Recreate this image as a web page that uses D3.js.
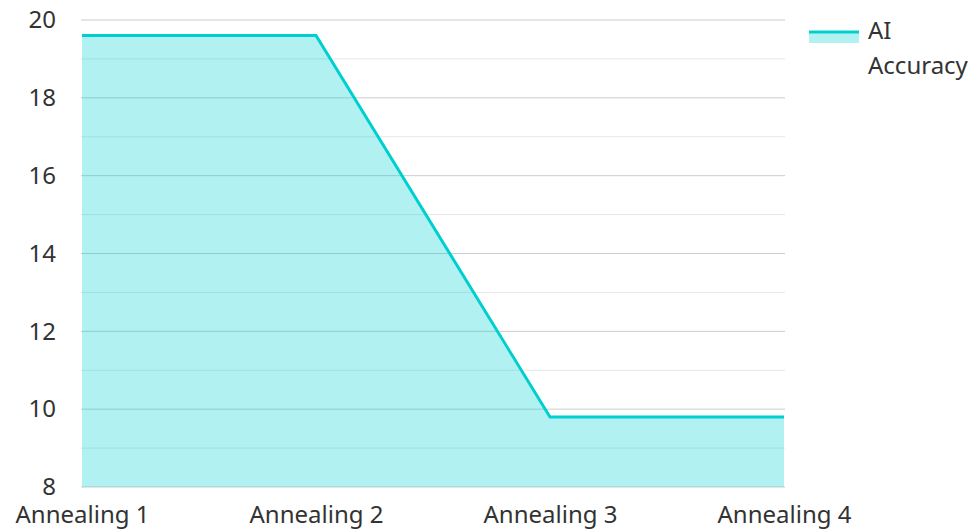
<!DOCTYPE html>
<html>
<head>
<meta charset="utf-8">
<script src="https://cdn.jsdelivr.net/npm/d3@7"></script>
<style>
  body { margin: 0; background: #fff; }
  text { font-family: "Noto Sans", sans-serif; fill: #333; }
</style>
</head>
<body>
<svg id="chart" width="974" height="529"></svg>
<script>

// DATA
// --------------------------------------------------------------------------

var categories = ['Annealing 1', 'Annealing 2', 'Annealing 3', 'Annealing 4'];
var accuracy = [19.6, 19.6, 9.8, 9.8];
var yTicks = [8, 10, 12, 14, 16, 18, 20];
var seriesName = ['AI', 'Accuracy'];


// CHART
// --------------------------------------------------------------------------

var svg = d3.select('#chart');
var color = '#00cfcf';
var fontSize = 24;

var x = d3.scalePoint().domain(categories).range([82, 784]);
var y = d3.scaleLinear().domain([8, 20]).range([487, 20]);

// Minor gridlines (odd values).
svg.append('g').selectAll('line')
  .data(d3.range(9, 20, 2))
  .join('line')
  .attr('x1', 81).attr('x2', 785)
  .attr('y1', d => y(d)).attr('y2', d => y(d))
  .attr('stroke', '#e6e6e6').attr('stroke-width', 1);

// Major gridlines.
svg.append('g').selectAll('line')
  .data(yTicks)
  .join('line')
  .attr('x1', 81).attr('x2', 785)
  .attr('y1', d => y(d)).attr('y2', d => y(d))
  .attr('stroke', '#cccccc').attr('stroke-width', 1);

// Area and line.
var pts = categories.map((c, i) => [x(c), y(accuracy[i])]);

svg.append('path')
  .datum(pts)
  .attr('d', d3.area().x(d => d[0]).y0(y(8)).y1(d => d[1]))
  .attr('fill', color).attr('fill-opacity', 0.3);

svg.append('path')
  .datum(pts)
  .attr('d', d3.line().x(d => d[0]).y(d => d[1]))
  .attr('fill', 'none').attr('stroke', color).attr('stroke-width', 3);

// Axes.
var yAxis = svg.append('g')
  .attr('transform', 'translate(82,0)')
  .call(d3.axisLeft(y).tickValues(yTicks).tickSize(0).tickPadding(26));
yAxis.select('.domain').remove();
yAxis.selectAll('text').attr('font-size', fontSize)
  .attr('font-family', '"Noto Sans", sans-serif').attr('fill', '#333');

var xAxis = svg.append('g')
  .attr('transform', 'translate(0,487)')
  .call(d3.axisBottom(x).tickSize(0).tickPadding(19));
xAxis.select('.domain').remove();
xAxis.selectAll('text').attr('font-size', fontSize)
  .attr('font-family', '"Noto Sans", sans-serif').attr('fill', '#222');

// Legend.
var legend = svg.append('g');
legend.append('rect')
  .attr('x', 809).attr('y', 32).attr('width', 50).attr('height', 11)
  .attr('fill', color).attr('fill-opacity', 0.3);
legend.append('line')
  .attr('x1', 809).attr('x2', 859).attr('y1', 32).attr('y2', 32)
  .attr('stroke', color).attr('stroke-width', 3);
legend.selectAll('text.name')
  .data(seriesName)
  .join('text')
  .attr('class', 'name')
  .attr('x', 868)
  .attr('y', (d, i) => 39 + i * 35)
  .attr('font-size', fontSize)
  .text(d => d);

</script>
</body>
</html>
